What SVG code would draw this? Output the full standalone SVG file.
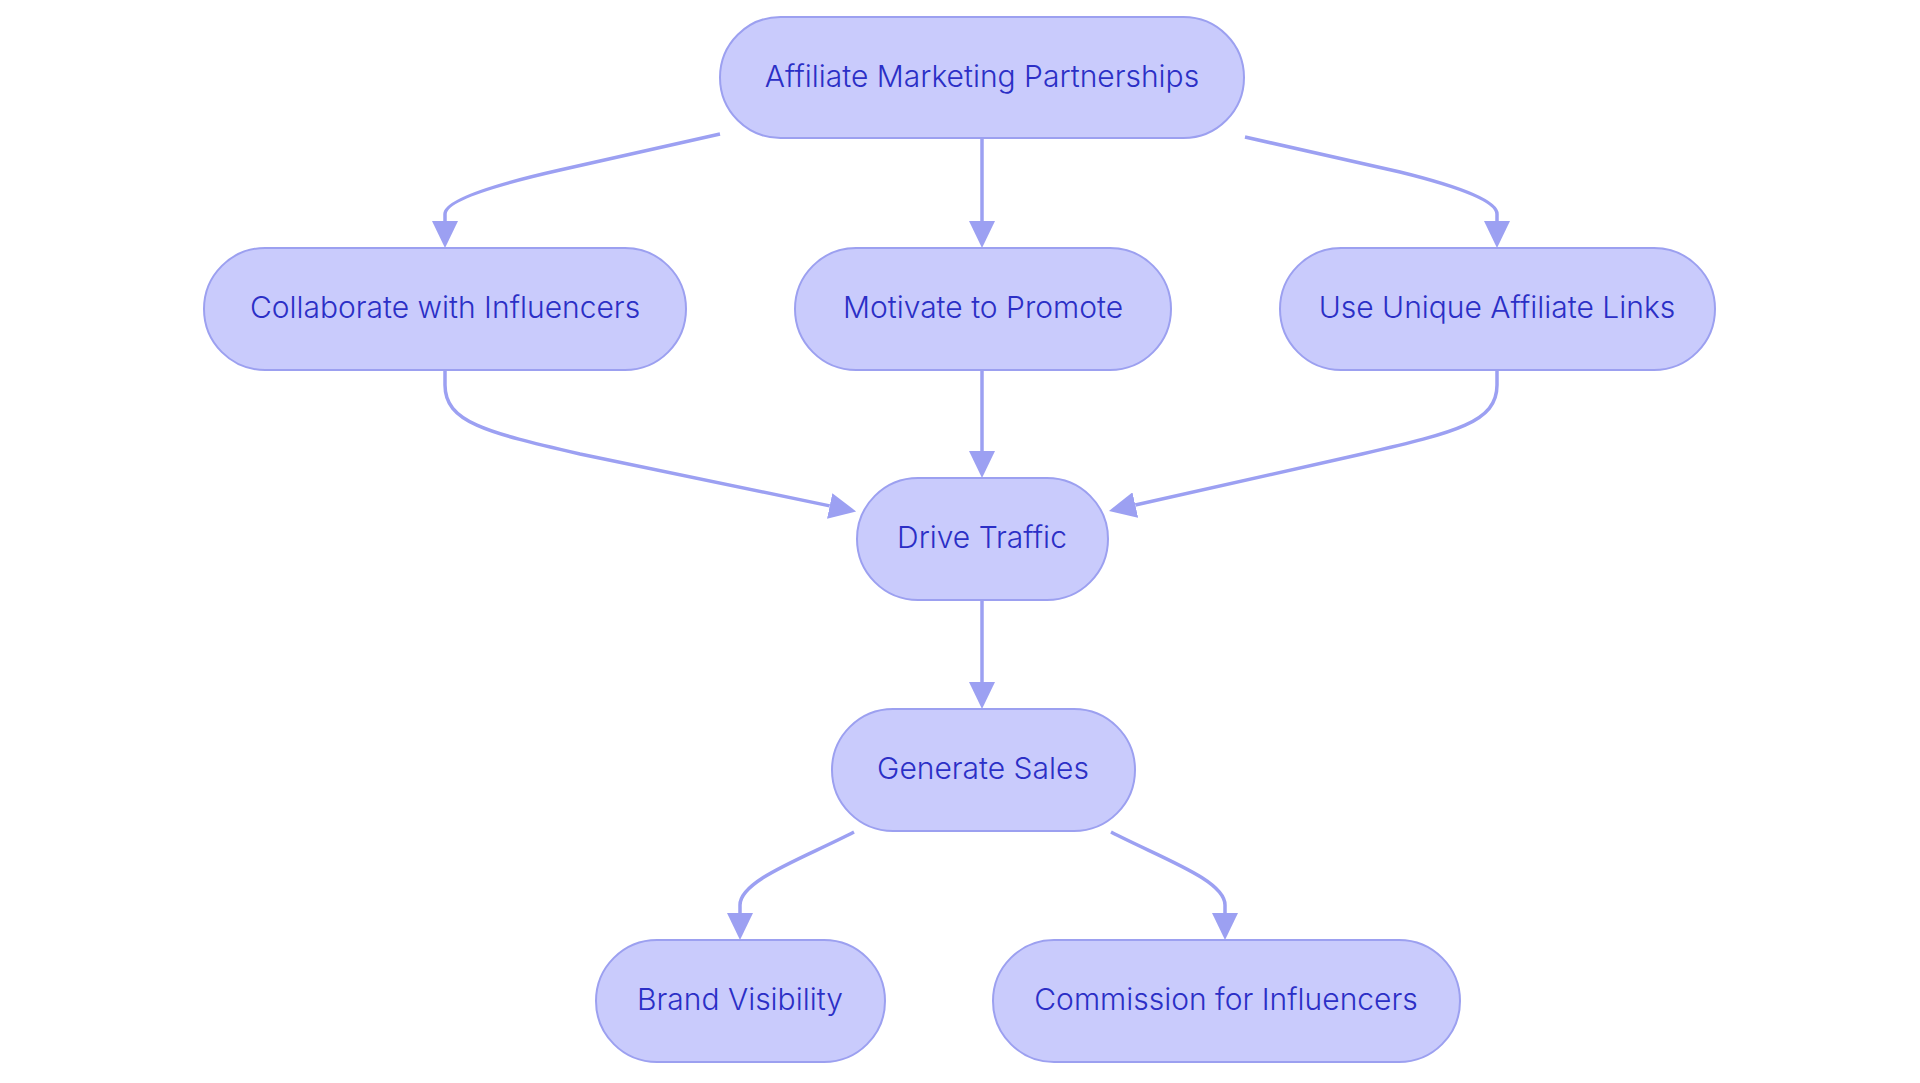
<svg xmlns="http://www.w3.org/2000/svg" width="1920" height="1083" viewBox="0 0 1920 1083">
<defs>
<style>
.node rect{fill:#C9CBFC;stroke:#9CA0F0;stroke-width:2}
.node text{font-family:Inter,"Noto Sans","Liberation Sans",sans-serif;font-size:30px;font-weight:300;fill:#2B2FC6;text-anchor:middle;dominant-baseline:central}
.edge{fill:none;stroke:#9CA0F2;stroke-width:3.5;marker-end:url(#arrow)}
</style>
<marker id="arrow" markerUnits="userSpaceOnUse" markerWidth="27" markerHeight="26" viewBox="0 0 27 26" refX="0" refY="13" orient="auto">
<path d="M0,0 L27,13 L0,26 z" fill="#9CA0F2"/>
</marker>
</defs>
<rect width="1920" height="1083" fill="#FFFFFF"/>
<g id="connectors">
<path class="edge" d="M720,134 L560,170 Q445,196 445,214 L445,221"/>
<path class="edge" d="M982,138 L982,221"/>
<path class="edge" d="M1245,137 L1400,172 Q1497,196 1497,214 L1497,221"/>
<path class="edge" d="M445,370 L445,385 C445,422 485,432 580,454 L829.7,505.9"/>
<path class="edge" d="M982,370 L982,451"/>
<path class="edge" d="M1497,370 L1497,385 C1497,422 1457,432 1362,454 L1135.3,505"/>
<path class="edge" d="M982,600 L982,682"/>
<path class="edge" d="M854,832 C804,858 740,880 740,905 L740,913"/>
<path class="edge" d="M1111,832 C1161,858 1225,880 1225,905 L1225,913"/>
</g>
<g id="node-affiliate" class="node">
<rect x="720" y="17" width="524" height="121" rx="60.5" ry="60.5"/>
<text x="982" y="75.5">Affiliate Marketing Partnerships</text>
</g>
<g id="node-collaborate" class="node">
<rect x="204" y="248" width="482" height="122" rx="61" ry="61"/>
<text x="445" y="307">Collaborate with Influencers</text>
</g>
<g id="node-motivate" class="node">
<rect x="795" y="248" width="376" height="122" rx="61" ry="61"/>
<text x="983" y="307">Motivate to Promote</text>
</g>
<g id="node-unique" class="node">
<rect x="1280" y="248" width="435" height="122" rx="61" ry="61"/>
<text x="1497" y="307">Use Unique Affiliate Links</text>
</g>
<g id="node-traffic" class="node">
<rect x="857" y="478" width="251" height="122" rx="61" ry="61"/>
<text x="982" y="537">Drive Traffic</text>
</g>
<g id="node-sales" class="node">
<rect x="832" y="709" width="303" height="122" rx="61" ry="61"/>
<text x="983" y="768">Generate Sales</text>
</g>
<g id="node-brand" class="node">
<rect x="596" y="940" width="289" height="122" rx="61" ry="61"/>
<text x="740" y="999">Brand Visibility</text>
</g>
<g id="node-commission" class="node">
<rect x="993" y="940" width="467" height="122" rx="61" ry="61"/>
<text x="1226" y="999">Commission for Influencers</text>
</g>
</svg>
